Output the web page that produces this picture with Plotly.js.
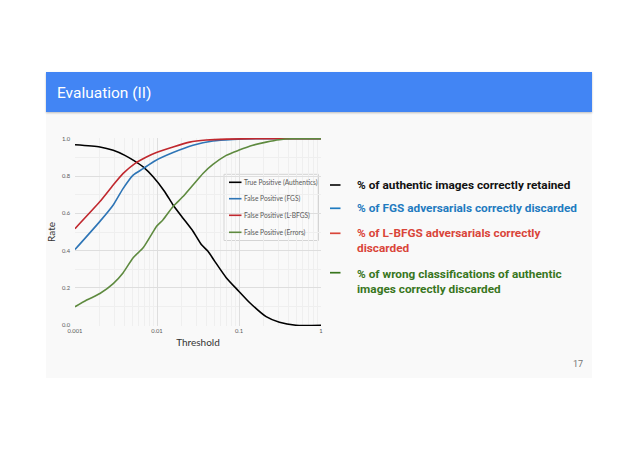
<!DOCTYPE html>
<html>
<head>
<meta charset="utf-8">
<script src="https://cdn.plot.ly/plotly-3.0.1.min.js"></script>
<style>
  html, body { margin:0; padding:0; background:#ffffff; }
  #wrap { position:relative; width:638px; height:451px; overflow:hidden; }
  #card { position:absolute; left:46px; top:72px; width:546px; height:306px; background:#f9f9f9; }
  #hdr { position:absolute; left:46px; top:72px; width:546px; height:40px; background:#4285f4;
         box-shadow:0 1px 2px rgba(0,0,0,0.25); }
  #chart { position:absolute; left:0; top:0; width:638px; height:451px; }
</style>
</head>
<body>
<div id="wrap">
  <div id="card"></div>
  <div id="hdr"></div>
  <div id="chart"></div>
</div>
<script>
// ---- data ----
const seriesNames = ["True Positive (Authentics)", "False Positive (FGS)", "False Positive (L-BFGS)", "False Positive (Errors)"];
const seriesColors = ["#000000", "#2e75b6", "#c0282e", "#5e8a3f"];

const tpX = [0.001, 0.002014, 0.002926, 0.004055, 0.005122, 0.006776, 0.008966, 0.01243, 0.0157, 0.02077, 0.02748, 0.0347, 0.04182, 0.05042, 0.06987, 0.09869, 0.1343, 0.2142, 0.3111, 0.4962, 1];
const tpY = [0.968, 0.956, 0.938, 0.911, 0.885, 0.849, 0.796, 0.716, 0.645, 0.574, 0.504, 0.433, 0.397, 0.344, 0.255, 0.184, 0.122, 0.046, 0.016, 0.0, 0.0];

const fgsX = [0.001, 0.002014, 0.002926, 0.00387, 0.005122, 0.006776, 0.009396, 0.0157, 0.02748, 0.04811, 0.08424, 0.1619, 1];
const fgsY = [0.406, 0.557, 0.645, 0.734, 0.805, 0.840, 0.881, 0.926, 0.965, 0.988, 0.996, 1.0, 1.0];

const lbfgsX = [0.001, 0.002014, 0.002926, 0.00387, 0.005365, 0.007437, 0.009843, 0.0157, 0.02503, 0.03991, 0.06987, 0.1619, 1];
const lbfgsY = [0.518, 0.663, 0.752, 0.814, 0.867, 0.902, 0.926, 0.956, 0.982, 0.993, 0.998, 1.0, 1.0];

const errX = [0.001, 0.001387, 0.002014, 0.002926, 0.00387, 0.005122, 0.006776, 0.008557, 0.009843, 0.01186, 0.0157, 0.02077, 0.02748, 0.03636, 0.04811, 0.06987, 0.09869, 0.1474, 0.2142, 0.3111, 0.4519, 1];
const errY = [0.099, 0.135, 0.170, 0.223, 0.282, 0.362, 0.415, 0.486, 0.530, 0.566, 0.637, 0.690, 0.752, 0.814, 0.862, 0.911, 0.938, 0.965, 0.982, 0.995, 1.0, 1.0];

const xTickVals = [0.001, 0.01, 0.1, 1];
const xTickText = ["0.001", "0.01", "0.1", "1"];

const sideTexts = [
  "% of authentic images correctly retained",
  "% of FGS adversarials correctly discarded",
  "% of L-BFGS adversarials correctly<br>discarded",
  "% of wrong classifications of authentic<br>images correctly discarded"
];
const sideColors = ["#111111", "#1f7bc0", "#d9453a", "#38761d"];

// ---- pixel helpers for layout-only placement (plot area: x 75..321, y 138..326) ----
const PX0 = 75, PX1 = 321, PY0 = 138, PY1 = 326;
const px = v => (v - PX0) / (PX1 - PX0);
const py = v => (PY1 - v) / (PY1 - PY0);

const xs = [tpX, fgsX, lbfgsX, errX];
const ys = [tpY, fgsY, lbfgsY, errY];

const traces = seriesNames.map((n, i) => ({
  type: "scatter", mode: "lines", name: n,
  x: xs[i], y: ys[i],
  line: { color: seriesColors[i], width: 1.6, shape: "spline", smoothing: 0.6 },
  showlegend: false, hoverinfo: "skip"
}));

// manual legend (box, sample lines, labels from seriesNames)
const legendRowsY = [182.3, 198.7, 215.3, 232.3];
const shapes = [{
  type: "rect", xref: "paper", yref: "paper", layer: "below",
  x0: px(224), x1: px(318.5), y0: py(240.5), y1: py(174.3),
  line: { color: "#d4d4d4", width: 1 }, fillcolor: "#fafafa"
}];
const annotations = [];
seriesNames.forEach((n, i) => {
  shapes.push({
    type: "line", xref: "paper", yref: "paper",
    x0: px(229), x1: px(241.5), y0: py(legendRowsY[i]), y1: py(legendRowsY[i]),
    line: { color: seriesColors[i], width: 1.6 }
  });
  annotations.push({
    xref: "paper", yref: "paper", x: px(242), y: py(legendRowsY[i]),
    xanchor: "left", yanchor: "middle", showarrow: false, text: n,
    font: { family: "Lato, 'Open Sans', sans-serif", size: 6.6, color: "#595959" }
  });
});

// side explanations
const sideDashY = [185, 208.3, 233.3, 272.7];
const sideTextY = [185, 208.3, 240.8, 281];
sideTexts.forEach((t, i) => {
  shapes.push({
    type: "line", xref: "paper", yref: "paper",
    x0: px(330), x1: px(340.5), y0: py(sideDashY[i]), y1: py(sideDashY[i]),
    line: { color: sideColors[i], width: 1.7 }
  });
  annotations.push({
    xref: "paper", yref: "paper", x: px(355), y: py(sideTextY[i]),
    xanchor: "left", yanchor: "middle", align: "left", showarrow: false, text: "<b>" + t + "</b>",
    font: { family: "Roboto, sans-serif", size: 11.8, color: sideColors[i] }
  });
});

// page number
annotations.push({
  xref: "paper", yref: "paper", x: px(578), y: py(364),
  xanchor: "center", yanchor: "middle", showarrow: false, text: "17",
  font: { family: "Roboto, sans-serif", size: 9, color: "#757575" }
});

const layout = {
  width: 638, height: 451,
  margin: { l: PX0, r: 638 - PX1, t: PY0, b: 451 - PY1, pad: 0 },
  paper_bgcolor: "rgba(0,0,0,0)",
  plot_bgcolor: "rgba(0,0,0,0)",
  showlegend: false,
  title: {
    text: "Evaluation (II)", xref: "container", yref: "container",
    x: 57 / 638, xanchor: "left", y: 1 - 93 / 451, yanchor: "middle",
    font: { family: "Roboto, sans-serif", size: 15.5, color: "#ffffff" }
  },
  xaxis: {
    type: "log", range: [-3, 0],
    tickvals: xTickVals, ticktext: xTickText,
    tickfont: { family: "Lato, sans-serif", size: 5.8, color: "#595959" },
    showgrid: true, gridcolor: "#dedede", gridwidth: 1,
    minor: { dtick: "D1", showgrid: true, gridcolor: "#efefef", gridwidth: 1 },
    zeroline: false, showline: false, ticks: "",
    title: { text: "Threshold", standoff: 6, font: { family: "Lato, sans-serif", size: 10, color: "#333333" } },
    fixedrange: true
  },
  yaxis: {
    range: [-0.004, 1.004], tickvals: [0, 0.2, 0.4, 0.6, 0.8, 1.0], tickformat: ".1f",
    tickfont: { family: "Lato, sans-serif", size: 5.8, color: "#595959" },
    showgrid: true, gridcolor: "#dedede", gridwidth: 1,
    minor: { tickvals: [0.1, 0.3, 0.5, 0.7, 0.9], showgrid: true, gridcolor: "#efefef", gridwidth: 1 },
    zeroline: false, showline: false, ticks: "", ticklabelstandoff: 4,
    title: { text: "Rate", standoff: 4, font: { family: "Lato, sans-serif", size: 10, color: "#333333" } },
    fixedrange: true
  },
  shapes: shapes,
  annotations: annotations
};

Plotly.newPlot("chart", traces, layout, { displayModeBar: false, staticPlot: true });
</script>
</body>
</html>
